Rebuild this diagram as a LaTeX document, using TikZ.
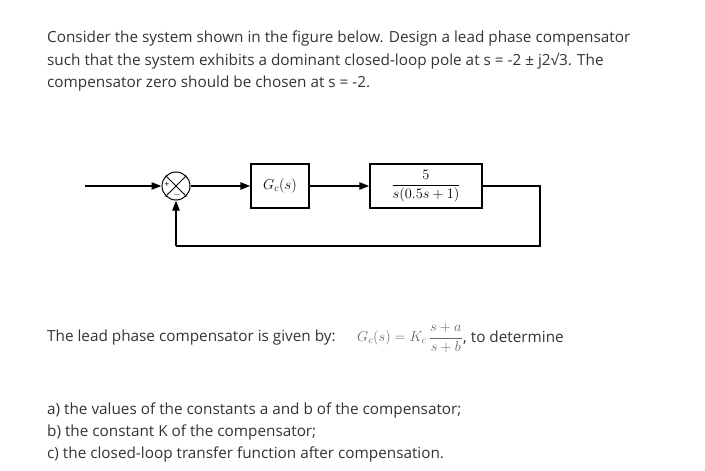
\documentclass[tikz,border=0pt]{standalone}
\usepackage{amsmath}
\usepackage{fontspec}
\setmainfont{Open Sans}
\usetikzlibrary{arrows.meta}
\begin{document}
\begin{tikzpicture}[x=1pt,y=-1pt,
  txt/.style={anchor=west,inner sep=0pt,font=\fontsize{15.3}{17}\selectfont,text=black!80},
  blk/.style={draw,line width=1.2pt,minimum height=44pt,inner sep=2pt,font=\fontsize{14}{16}\selectfont},
  sig/.style={line width=2.2pt,-{Triangle[length=10pt,width=7pt]}},
  wire/.style={line width=2.2pt}]
\useasboundingbox (0,0) rectangle (705,471);
\node[txt] (t1) at (47,38) {Consider the system shown in the figure below. Design a lead phase compensator};
\node[txt] (t2) at (47,61) {such that the system exhibits a dominant closed-loop pole at s = -2 \textpm{} j2\textsurd3. The};
\node[txt] (t3) at (47,84) {compensator zero should be chosen at s = -2.};
\coordinate (in) at (85,186);
\node[draw,circle,line width=1pt,minimum size=28pt,inner sep=0pt] (sum) at (176,186) {};
\draw[line width=1pt] (sum.north west)--(sum.south east) (sum.north east)--(sum.south west);
\node[font=\fontsize{9}{9}\selectfont] (plus) at (167,185) {+};
\node[font=\fontsize{9}{9}\selectfont] (minus) at (177,195) {$-$};
\node[blk,minimum width=58pt] (gc) at (280,186) {$G_c(s)$};
\node[blk,minimum width=112pt] (gp) at (426,186) {$\dfrac{5}{s(0.5s+1)}$};
\coordinate (o) at (540,186);
\coordinate (c1) at (540,246);
\coordinate (c2) at (176,246);
\draw[sig] (in) -- (sum);
\draw[sig] (sum) -- (gc);
\draw[sig] (gc) -- (gp);
\draw[wire] (gp) -- (o) -- (c1) -- (c2);
\draw[sig] (c2) -- (sum);
\node[txt] (t4) at (47,338) {The lead phase compensator is given by:};
\node[anchor=west,inner sep=0pt,text=black!60,font=\fontsize{14}{16}\selectfont] (eq) at (357,338) {$G_{c}(s)=K_{c}\,\dfrac{s+a}{s+b}$};
\node[txt] (t5) at (eq.east) {, to determine};
\node[txt] (t6) at (47,410) {a) the values of the constants a and b of the compensator;};
\node[txt] (t7) at (47,432) {b) the constant K of the compensator;};
\node[txt] (t8) at (47,454) {c) the closed-loop transfer function after compensation.};
\end{tikzpicture}
\end{document}
